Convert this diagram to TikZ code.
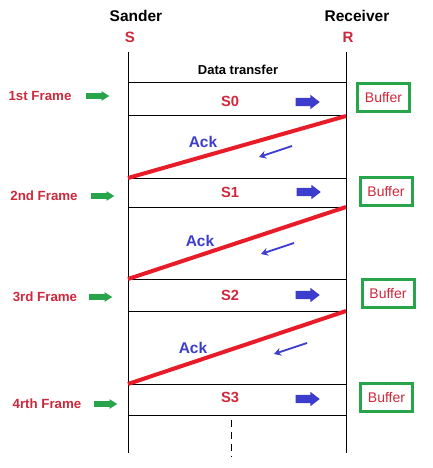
\documentclass[tikz,border=0pt]{standalone}
\usepackage{fontspec}
\setmainfont{Liberation Sans}
\usetikzlibrary{shapes.arrows,arrows.meta}
\definecolor{txtred}{RGB}{205,40,60}
\definecolor{linered}{RGB}{232,28,40}
\definecolor{ackblue}{RGB}{60,60,205}
\definecolor{boxgreen}{RGB}{40,165,75}
\tikzset{
  lifeline/.style={draw=black,line width=1pt},
  sepline/.style={draw=black,line width=1pt},
  ackline/.style={draw=linered,line width=4pt},
  head/.style={font=\bfseries\fontsize{15.5}{16}\selectfont,text=black,inner sep=0pt},
  endlbl/.style={font=\bfseries\fontsize{15}{16}\selectfont,text=txtred,inner sep=0pt},
  frlbl/.style={font=\fontsize{13.3}{14}\selectfont\bfseries,text=txtred,inner sep=0pt},
  slbl/.style={font=\bfseries\fontsize{14.7}{15}\selectfont,text=txtred,inner sep=0pt},
  acklbl/.style={font=\bfseries\fontsize{15.5}{16}\selectfont,text=ackblue,inner sep=0pt},
  bufbox/.style={draw=boxgreen,line width=3pt,text=txtred,font=\fontsize{14}{15}\selectfont,minimum width=52pt,minimum height=28pt,inner sep=0pt},
  bluearrow/.style={single arrow,fill=ackblue,draw=none,inner sep=4pt,minimum height=24pt,single arrow head extend=3pt,single arrow head indent=0pt,single arrow tip angle=75},
  greenarrow/.style={single arrow,fill=boxgreen,draw=none,inner sep=2.6pt,minimum height=23pt,single arrow head extend=2pt,single arrow head indent=0pt,single arrow tip angle=65},
  smallarrow/.style={draw=ackblue,line width=1.8pt,-{Stealth[length=7pt,width=8pt]}},
}
\begin{document}
\begin{tikzpicture}[x=1pt,y=-1pt]
\useasboundingbox (0,0) rectangle (433,468);
% headers
\node[head] (sander) at (136,16) {Sander};
\node[head] (receiver) at (357,16) {Receiver};
\node[endlbl] (s) at (130,37) {S};
\node[endlbl] (r) at (348,37) {R};
% lifelines
\coordinate (stop) at (128,52);
\coordinate (sbot) at (128,453);
\coordinate (rtop) at (346,52);
\coordinate (rbot) at (346,453);
\draw[lifeline] (stop) -- (sbot);
\draw[lifeline] (rtop) -- (rbot);
% separators
\foreach \y/\n in {83/a,116/b,178/c,207/d,279/e,311/f,384/g,415/h}{
  \coordinate (L\n) at (128,\y);
  \coordinate (R\n) at (346,\y);
  \draw[sepline] (L\n) -- (R\n);
}
\node[font=\bfseries\fontsize{13}{14}\selectfont,inner sep=0pt] (dt) at (238,70) {Data transfer};
% ack lines
\draw[ackline] (Rb) -- (Lc);
\draw[ackline] (Rd) -- (Le);
\draw[ackline] (Rf) -- (Lg);
% frame labels
\node[slbl] (s0) at (230,101) {S0};
\node[slbl] (s1) at (230,192) {S1};
\node[slbl] (s2) at (230,295) {S2};
\node[slbl] (s3) at (230,397) {S3};
\node[bluearrow] (b0) at (305,102) {};
\node[bluearrow] (b1) at (306,192) {};
\node[bluearrow] (b2) at (305,295) {};
\node[bluearrow] (b3) at (305,399) {};
% buffers
\node[bufbox] (buf0) at (383.5,97.5) {Buffer};
\node[bufbox] (buf1) at (386,191.5) {Buffer};
\node[bufbox] (buf2) at (388,293.5) {Buffer};
\node[bufbox] (buf3) at (386.5,397.5) {Buffer};
% frame names
\node[frlbl] (f1) at (40,96) {1st Frame};
\node[frlbl] (f2) at (44,196) {2nd Frame};
\node[frlbl] (f3) at (45,297) {3rd Frame};
\node[frlbl] (f4) at (47,404) {4rth Frame};
\node[greenarrow] (g1) at (95.5,96) {};
\node[greenarrow] (g2) at (100.5,196) {};
\node[greenarrow] (g3) at (98.5,297) {};
\node[greenarrow] (g4) at (103.5,404) {};
% ack labels
\node[acklbl] (ack1) at (203,142) {Ack};
\node[acklbl] (ack2) at (200,241) {Ack};
\node[acklbl] (ack3) at (193,348) {Ack};
\coordinate (t1) at (292,146); \coordinate (h1) at (259,157);
\coordinate (t2) at (294,243); \coordinate (h2) at (261,254);
\coordinate (t3) at (307,343); \coordinate (h3) at (274,354);
\draw[smallarrow] (t1) -- (h1);
\draw[smallarrow] (t2) -- (h2);
\draw[smallarrow] (t3) -- (h3);
% dashed continuation
\coordinate (d1) at (231,420);
\coordinate (d2) at (231,457);
\draw[black,line width=1pt,dash pattern=on 7pt off 5pt] (d1) -- (d2);
\end{tikzpicture}
\end{document}
